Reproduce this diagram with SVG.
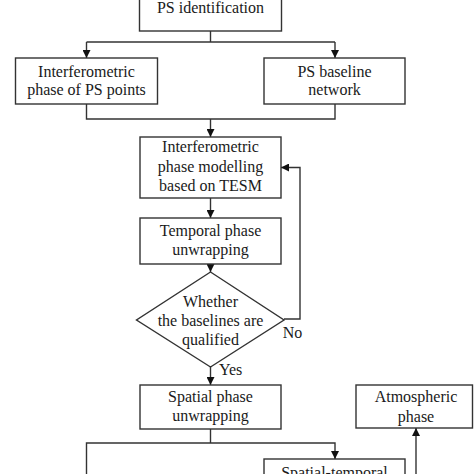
<svg xmlns="http://www.w3.org/2000/svg" width="474" height="474" viewBox="0 0 474 474">
<style>
.box{fill:#fff;stroke:#333;stroke-width:1.4}
.t{font-family:"Liberation Serif",serif;font-size:16px;fill:#1a1a1a;text-anchor:middle}
.c{fill:none;stroke:#333;stroke-width:1.4}
</style>
<defs>
<marker id="ah" viewBox="0 0 10 10" refX="10" refY="5" markerWidth="8" markerHeight="8" markerUnits="userSpaceOnUse" orient="auto">
<path d="M0,0 L10,5 L0,10 z" fill="#111"/>
</marker>
</defs>
<rect width="474" height="474" fill="#fff"/>
<g id="connectors">
<path class="c" d="M210.5,31 V42"/>
<path class="c" d="M86.5,42 H335" />
<path class="c" d="M86.5,42 V58" marker-end="url(#ah)"/>
<path class="c" d="M335,42 V58" marker-end="url(#ah)"/>
<path class="c" d="M86.5,104 V119 H335 V104"/>
<path class="c" d="M210.5,119 V137" marker-end="url(#ah)"/>
<path class="c" d="M210.5,198 V218" marker-end="url(#ah)"/>
<path class="c" d="M210.5,264 V272" marker-end="url(#ah)"/>
<path class="c" d="M284,319 H300 V167.5 H281" marker-end="url(#ah)"/>
<path class="c" d="M210.5,367 V385" marker-end="url(#ah)"/>
<path class="c" d="M210.5,429 V443"/>
<path class="c" d="M86.5,474 V443 H335 V459" marker-end="url(#ah)"/>
<path class="c" d="M416,474 V428" marker-end="url(#ah)"/>
</g>
<g id="ps-identification">
<rect class="box" x="139.5" y="-5" width="142" height="36"/>
<text class="t" x="210.5" y="13">PS identification</text>
</g>
<g id="interferometric-phase">
<rect class="box" x="15.5" y="58" width="142" height="46"/>
<text class="t" x="86.5" y="76.5">Interferometric</text>
<text class="t" x="86.5" y="95">phase of PS points</text>
</g>
<g id="ps-baseline-network">
<rect class="box" x="264" y="58" width="141" height="46"/>
<text class="t" x="334.5" y="76.5">PS baseline</text>
<text class="t" x="334.5" y="95">network</text>
</g>
<g id="phase-modelling">
<rect class="box" x="140" y="137" width="141" height="61"/>
<text class="t" x="210.5" y="152">Interferometric</text>
<text class="t" x="210.5" y="171.5">phase modelling</text>
<text class="t" x="210.5" y="190.5">based on TESM</text>
</g>
<g id="temporal-unwrapping">
<rect class="box" x="140" y="218" width="141" height="46"/>
<text class="t" x="210.5" y="236">Temporal phase</text>
<text class="t" x="210.5" y="254.5">unwrapping</text>
</g>
<g id="decision">
<path class="box" d="M210.5,272 L284,320 L210.5,367 L136.5,320 Z"/>
<text class="t" x="210.5" y="306.5">Whether</text>
<text class="t" x="210.5" y="326">the baselines are</text>
<text class="t" x="210.5" y="345">qualified</text>
<text class="t" x="292.5" y="337.5">No</text>
<text class="t" x="219" y="375" style="text-anchor:start">Yes</text>
</g>
<g id="spatial-unwrapping">
<rect class="box" x="140" y="385" width="141" height="44"/>
<text class="t" x="210.5" y="401.5">Spatial phase</text>
<text class="t" x="210.5" y="420.5">unwrapping</text>
</g>
<g id="atmospheric-phase">
<rect class="box" x="356" y="385" width="116.5" height="43"/>
<text class="t" x="416" y="402">Atmospheric</text>
<text class="t" x="416" y="421.5">phase</text>
</g>
<g id="spatial-temporal">
<rect class="box" x="264" y="459" width="141" height="40"/>
<text class="t" x="334.5" y="477.5">Spatial-temporal</text>
</g>
</svg>
